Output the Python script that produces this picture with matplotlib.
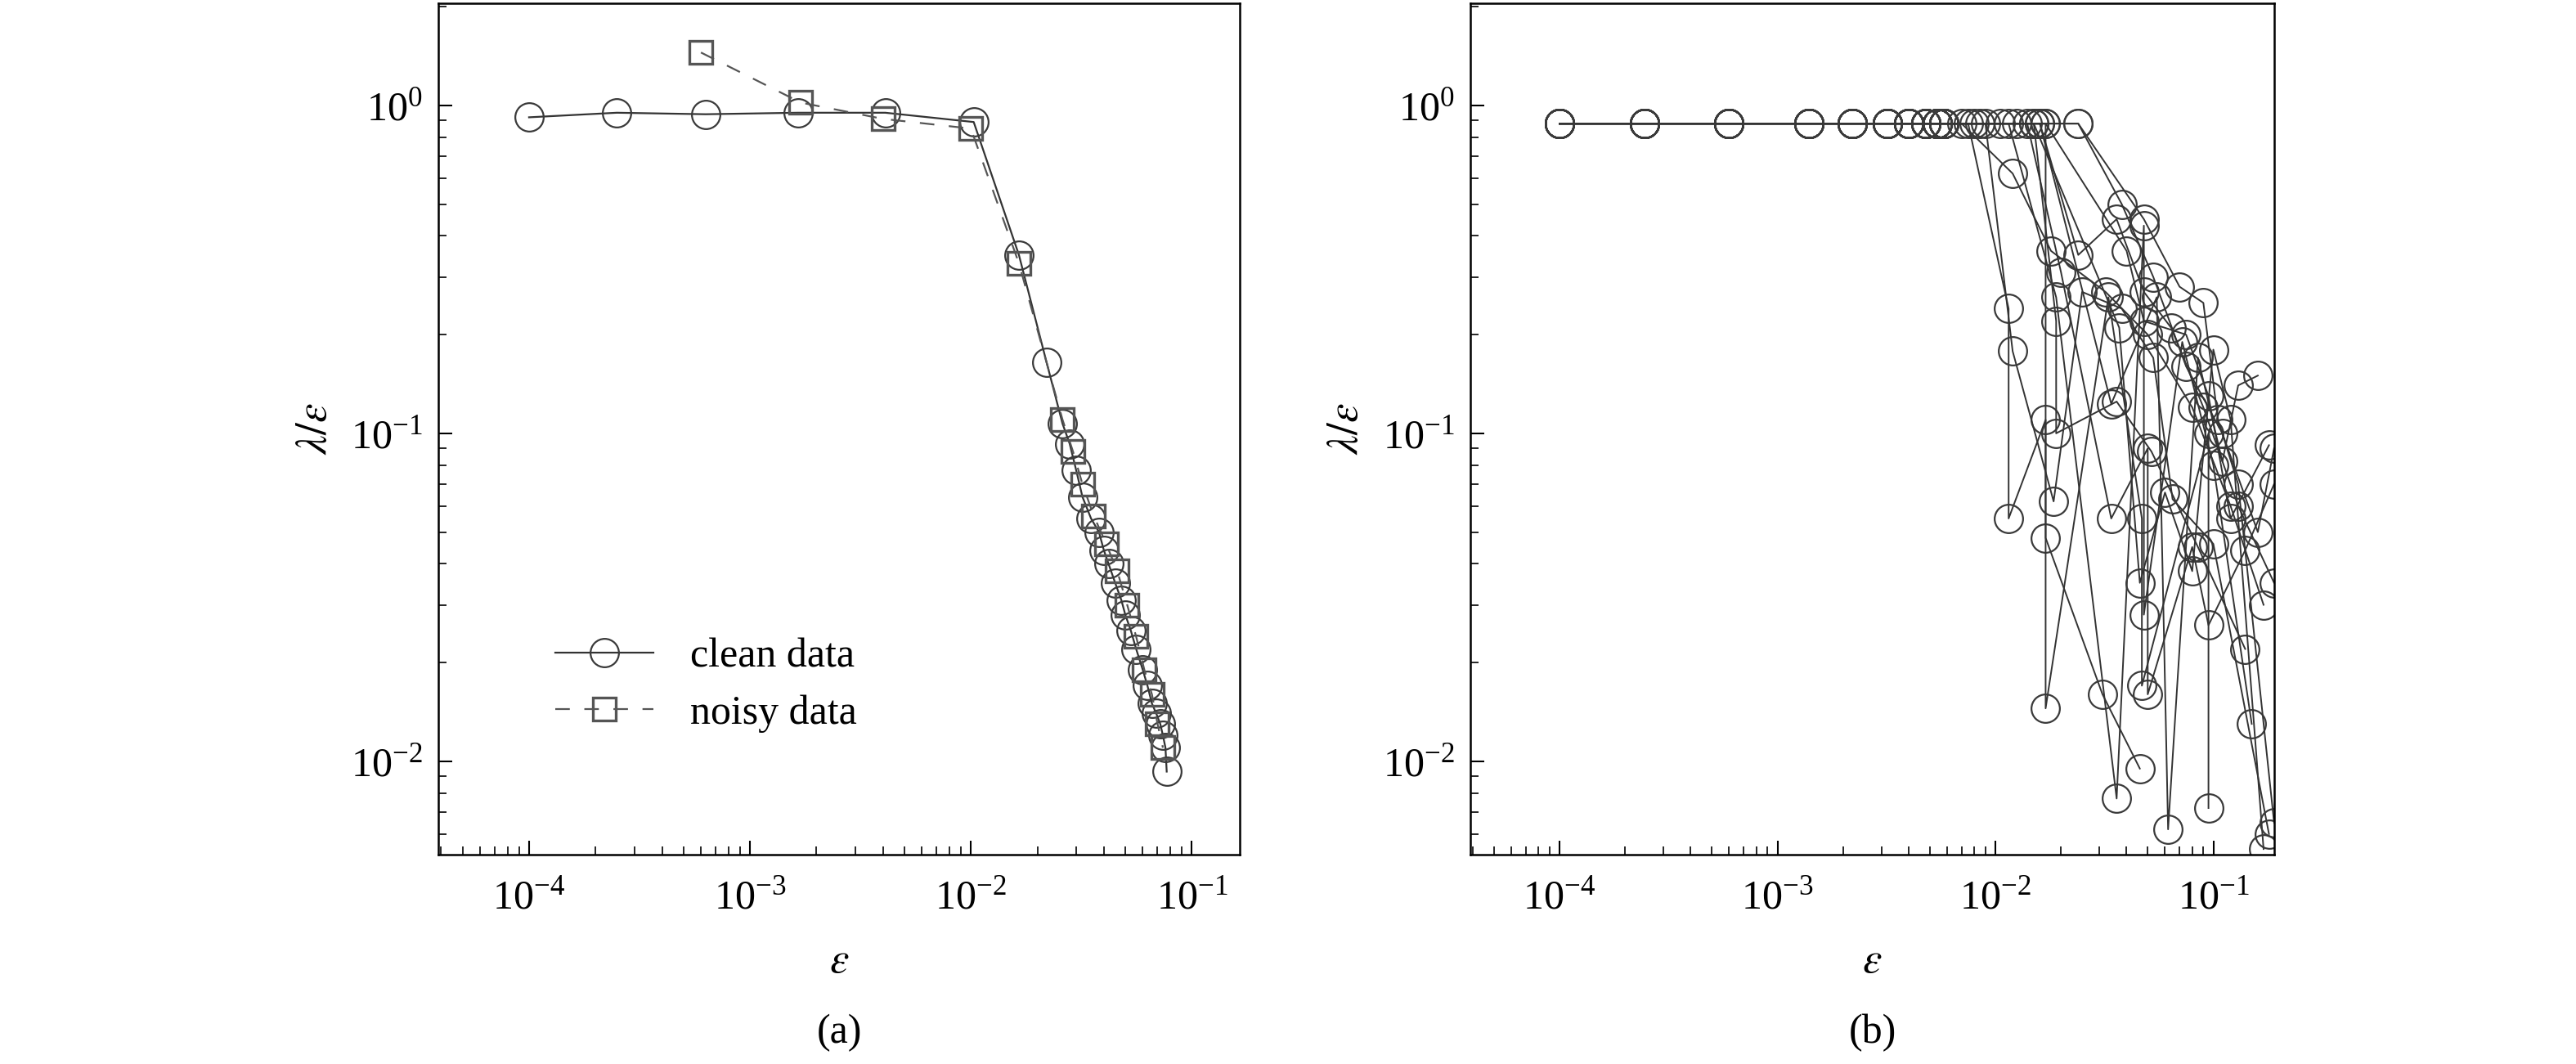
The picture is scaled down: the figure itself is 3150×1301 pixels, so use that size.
import matplotlib
matplotlib.use("Agg")
import matplotlib.pyplot as plt
from matplotlib import font_manager
import numpy as np

names = sorted({f.name for f in font_manager.fontManager.ttflist})
serif = [n for n in names if 'Serif' in n or 'Times' in n]
plt.rcParams['font.family'] = 'serif'
plt.rcParams['font.serif'] = serif[:1] if not any('Liberation Serif' == n for n in names) else ['Liberation Serif']
plt.rcParams['mathtext.fontset'] = 'stix'

# ---- panel (a) ----
clean_x = [1e-4, 2.5e-4, 6.3e-4, 1.65e-3, 4.1e-3, 1.03e-2, 0.0165, 0.022, 0.026, 0.028, 0.030,
           0.032, 0.035, 0.038, 0.040, 0.042, 0.045, 0.048, 0.050, 0.053, 0.056, 0.060,
           0.063, 0.066, 0.069, 0.072, 0.074, 0.076, 0.077]
clean_y = [0.92, 0.95, 0.94, 0.95, 0.95, 0.89, 0.35, 0.165, 0.107, 0.093, 0.077,
           0.064, 0.055, 0.050, 0.044, 0.040, 0.035, 0.031, 0.028, 0.025, 0.022, 0.019,
           0.017, 0.015, 0.014, 0.013, 0.012, 0.011, 0.0093]
noisy_x = [6e-4, 1.7e-3, 4e-3, 1e-2, 0.0165, 0.026, 0.029, 0.032, 0.036, 0.041, 0.046,
           0.051, 0.056, 0.061, 0.066, 0.070, 0.074]
noisy_y = [1.45, 1.02, 0.91, 0.85, 0.33, 0.11, 0.088, 0.070, 0.056, 0.046, 0.038,
           0.030, 0.024, 0.019, 0.016, 0.013, 0.011]

# ---- panel (b) ----
flat_x = [1e-4, 2.45e-4, 6e-4, 1.4e-3, 2.2e-3, 3.2e-3, 4e-3, 4.8e-3, 5.4e-3, 5.8e-3]
flat_y = [0.88, 0.88, 0.88, 0.88, 0.88, 0.88, 0.88, 0.88, 0.88, 0.88]
tails_x = [
    [0.007, 0.012, 0.018, 0.032, 0.050, 0.080, 0.120, 0.170],
    [0.0075, 0.0115, 0.0115, 0.017, 0.017, 0.031, 0.046],
    [0.008, 0.015, 0.019, 0.019, 0.036, 0.052, 0.085, 0.14],
    [0.0085, 0.017, 0.017, 0.033, 0.047, 0.047, 0.095, 0.095],
    [0.009, 0.012, 0.0185, 0.025, 0.038, 0.053, 0.065, 0.10, 0.18],
    [0.0105, 0.016, 0.024, 0.036, 0.048, 0.064, 0.09, 0.13, 0.19],
    [0.0115, 0.019, 0.036, 0.048, 0.048, 0.072, 0.10, 0.15],
    [0.0125, 0.024, 0.038, 0.053, 0.075, 0.11, 0.16, 0.19],
    [0.014, 0.020, 0.034, 0.050, 0.050, 0.080, 0.095, 0.14, 0.19],
    [0.015, 0.037, 0.046, 0.060, 0.080, 0.10, 0.12, 0.17],
    [0.016, 0.034, 0.055, 0.062, 0.085, 0.11, 0.13, 0.16],
    [0.017, 0.040, 0.048, 0.075, 0.095, 0.12, 0.18],
    [0.024, 0.048, 0.070, 0.090, 0.105, 0.13, 0.19],
]
tails_y = [
    [0.88, 0.62, 0.36, 0.27, 0.20, 0.12, 0.06, 0.03],
    [0.88, 0.24, 0.055, 0.11, 0.048, 0.016, 0.0095],
    [0.88, 0.88, 0.22, 0.10, 0.125, 0.088, 0.045, 0.022],
    [0.88, 0.88, 0.0145, 0.26, 0.055, 0.017, 0.10, 0.0072],
    [0.88, 0.178, 0.062, 0.27, 0.24, 0.17, 0.063, 0.046, 0.006],
    [0.88, 0.88, 0.35, 0.45, 0.27, 0.21, 0.12, 0.06, 0.035],
    [0.88, 0.26, 0.0077, 0.43, 0.028, 0.19, 0.08, 0.013],
    [0.88, 0.88, 0.50, 0.30, 0.16, 0.10, 0.05, 0.09],
    [0.88, 0.31, 0.055, 0.09, 0.016, 0.045, 0.026, 0.044, 0.07],
    [0.88, 0.21, 0.035, 0.066, 0.038, 0.18, 0.11, 0.0054],
    [0.88, 0.123, 0.26, 0.0062, 0.17, 0.082, 0.14, 0.15],
    [0.88, 0.36, 0.22, 0.2, 0.13, 0.055, 0.092],
    [0.88, 0.45, 0.28, 0.25, 0.11, 0.07, 0.0065],
]

W, H = 3150, 1301
fig = plt.figure(figsize=(W/100, H/100), dpi=100)
ax1 = fig.add_axes([0.1703, 0.197, 0.311, 0.80])
ax2 = fig.add_axes([0.5708, 0.197, 0.312, 0.80])

ms = 25
mk = dict(marker='o', mfc='none', mec='#3a3a3a', mew=1.6, ms=ms)
ax1.plot(clean_x, clean_y, '-', color='#333333', lw=1.6, label='clean data', **mk)
ax1.plot(noisy_x, noisy_y, '--', color='#555555', lw=1.6, dashes=(8, 8), marker='s', mfc='none',
         mec='#555555', mew=2.4, ms=20, label='noisy data')

for tx, ty in zip(tails_x, tails_y):
    ax2.plot(flat_x + tx, flat_y + ty, '-', color='#333333', lw=1.4, **mk)

for ax, xl in ((ax1, (3.9e-5, 0.165)), (ax2, (3.9e-5, 0.19))):
    ax.set_xscale('log'); ax.set_yscale('log')
    ax.set_xlim(*xl); ax.set_ylim(0.0052, 2.05)
    ax.set_xticks([1e-4, 1e-3, 1e-2, 1e-1])
    ax.set_yticks([1e-2, 1e-1, 1e0])
    ax.tick_params(which='both', direction='in', top=False, right=False, labelsize=36)
    ax.tick_params(axis='x', pad=22)
    ax.tick_params(axis='y', pad=14)
    ax.tick_params(which='major', length=12, width=1.5)
    ax.tick_params(which='minor', length=7, width=1.2)
    for s in ax.spines.values():
        s.set_linewidth(1.8)
    ax.set_xlabel(r'$\varepsilon$', fontsize=38, labelpad=22)
    ax.set_ylabel(r'$\lambda/\varepsilon$', fontsize=38, labelpad=14)

ax1.legend(loc='lower left', bbox_to_anchor=(0.1, 0.1), frameon=False, fontsize=36,
           handlelength=2.4, labelspacing=0.45, handletextpad=0.9)

fig.text(0.3258, 0.02, '(a)', ha='center', fontsize=36)
fig.text(0.727, 0.02, '(b)', ha='center', fontsize=36)
fig.savefig('out.png', dpi=100)
